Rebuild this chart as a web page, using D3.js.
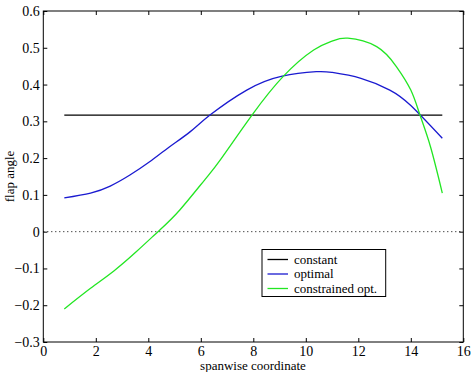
<!DOCTYPE html>
<html><head><meta charset="utf-8">
<script src="https://cdn.jsdelivr.net/npm/d3@7"></script>
<style>body{margin:0;background:#fff} svg text{font-family:"Liberation Serif","Times New Roman",serif;}</style>
</head><body>
<svg id="c" width="474" height="372"></svg>
<script>
const xTicks = [0,2,4,6,8,10,12,14,16];
const yTicks = [-0.3,-0.2,-0.1,0,0.1,0.2,0.3,0.4,0.5,0.6];
const seriesNames = ["constant","optimal","constrained opt."];
const constantX = [0.8, 15.2];
const constantY = [0.317, 0.317];
const optimalX = [0.8, 1.8, 2.55, 3.3, 4.05, 4.8, 5.6, 6.35, 7.75, 9.1, 10.4, 11.0, 12.1, 13.2, 14.0, 15.2];
const optimalY = [0.092, 0.105, 0.124, 0.154, 0.190, 0.230, 0.272, 0.317, 0.385, 0.423, 0.435, 0.433, 0.417, 0.385, 0.343, 0.254];
const constrX = [0.8, 1.8, 2.7, 3.55, 4.4, 5.2, 6.15, 6.75, 7.95, 9.15, 10.3, 11.0, 11.6, 12.7, 13.45, 14.0, 14.35, 14.75, 15.2];
const constrY = [-0.210, -0.154, -0.106, -0.054, 0.002, 0.059, 0.141, 0.196, 0.317, 0.423, 0.494, 0.518, 0.526, 0.503, 0.449, 0.385, 0.317, 0.231, 0.105];

const L=43.3, R=463.3, T=11, B=342;
const svg = d3.select("#c");
const x = d3.scaleLinear().domain([0,16]).range([L,R]);
const y = d3.scaleLinear().domain([-0.3,0.6]).range([B,T]);
const fmt = d => d===0 ? "0" : d3.format(".1f")(d).replace("-", "\u2212");

svg.append("line").attr("x1",x(0)).attr("x2",x(16)).attr("y1",y(0)).attr("y2",y(0))
  .attr("stroke","#000").attr("stroke-width",1).attr("stroke-dasharray","1,3");

const line = d3.line().x(d=>x(d[0])).y(d=>y(d[1])).curve(d3.curveNatural);
const series = [
  {name:seriesNames[0], xs:constantX, ys:constantY, color:"#000"},
  {name:seriesNames[1], xs:optimalX, ys:optimalY, color:"#1a1ad0"},
  {name:seriesNames[2], xs:constrX, ys:constrY, color:"#22e622"}
];
series.forEach(s=>{
  svg.append("path").datum(s.xs.map((v,i)=>[v,s.ys[i]])).attr("d",line)
    .attr("fill","none").attr("stroke",s.color).attr("stroke-width",1.3);
});

const tl = -4;
const gB = svg.append("g").attr("transform",`translate(0,${B})`)
  .call(d3.axisBottom(x).tickValues(xTicks).tickSize(tl).tickPadding(8).tickFormat(d3.format("d")));
const gT = svg.append("g").attr("transform",`translate(0,${T})`)
  .call(d3.axisTop(x).tickValues(xTicks).tickSize(tl).tickFormat(""));
const gL = svg.append("g").attr("transform",`translate(${L},0)`)
  .call(d3.axisLeft(y).tickValues(yTicks).tickSize(tl).tickPadding(3.5).tickFormat(fmt));
const gR = svg.append("g").attr("transform",`translate(${R},0)`)
  .call(d3.axisRight(y).tickValues(yTicks).tickSize(tl).tickFormat(""));
[gB,gT,gL,gR].forEach(g=>{
  g.attr("font-family",null);
  g.select(".domain").remove();
  g.selectAll("line").attr("stroke","#000");
  g.selectAll("text").attr("font-size",14).attr("fill","#000");
});
gB.selectAll("text").attr("dy","0.45em");
svg.append("rect").attr("x",L).attr("y",T).attr("width",R-L).attr("height",B-T)
  .attr("fill","none").attr("stroke","#000").attr("stroke-width",1);

svg.append("text").attr("x",253).attr("y",370).attr("text-anchor","middle")
  .attr("font-size",13).text("spanwise coordinate");
svg.append("text").attr("transform",`translate(14,${(T+B)/2}) rotate(-90)`).attr("text-anchor","middle")
  .attr("font-size",13).text("flap angle");

const lg = svg.append("g");
lg.append("rect").attr("x",262).attr("y",249.5).attr("width",123.7).attr("height",47)
  .attr("fill","#fff").attr("stroke","#000").attr("stroke-width",1);
series.forEach((s,i)=>{
  const yy = 259.5 + i*14.5;
  lg.append("line").attr("x1",267.5).attr("x2",288).attr("y1",yy).attr("y2",yy)
    .attr("stroke",s.color).attr("stroke-width",1.3);
  lg.append("text").attr("x",294).attr("y",yy+4).attr("font-size",13).text(s.name);
});
</script>
</body></html>
